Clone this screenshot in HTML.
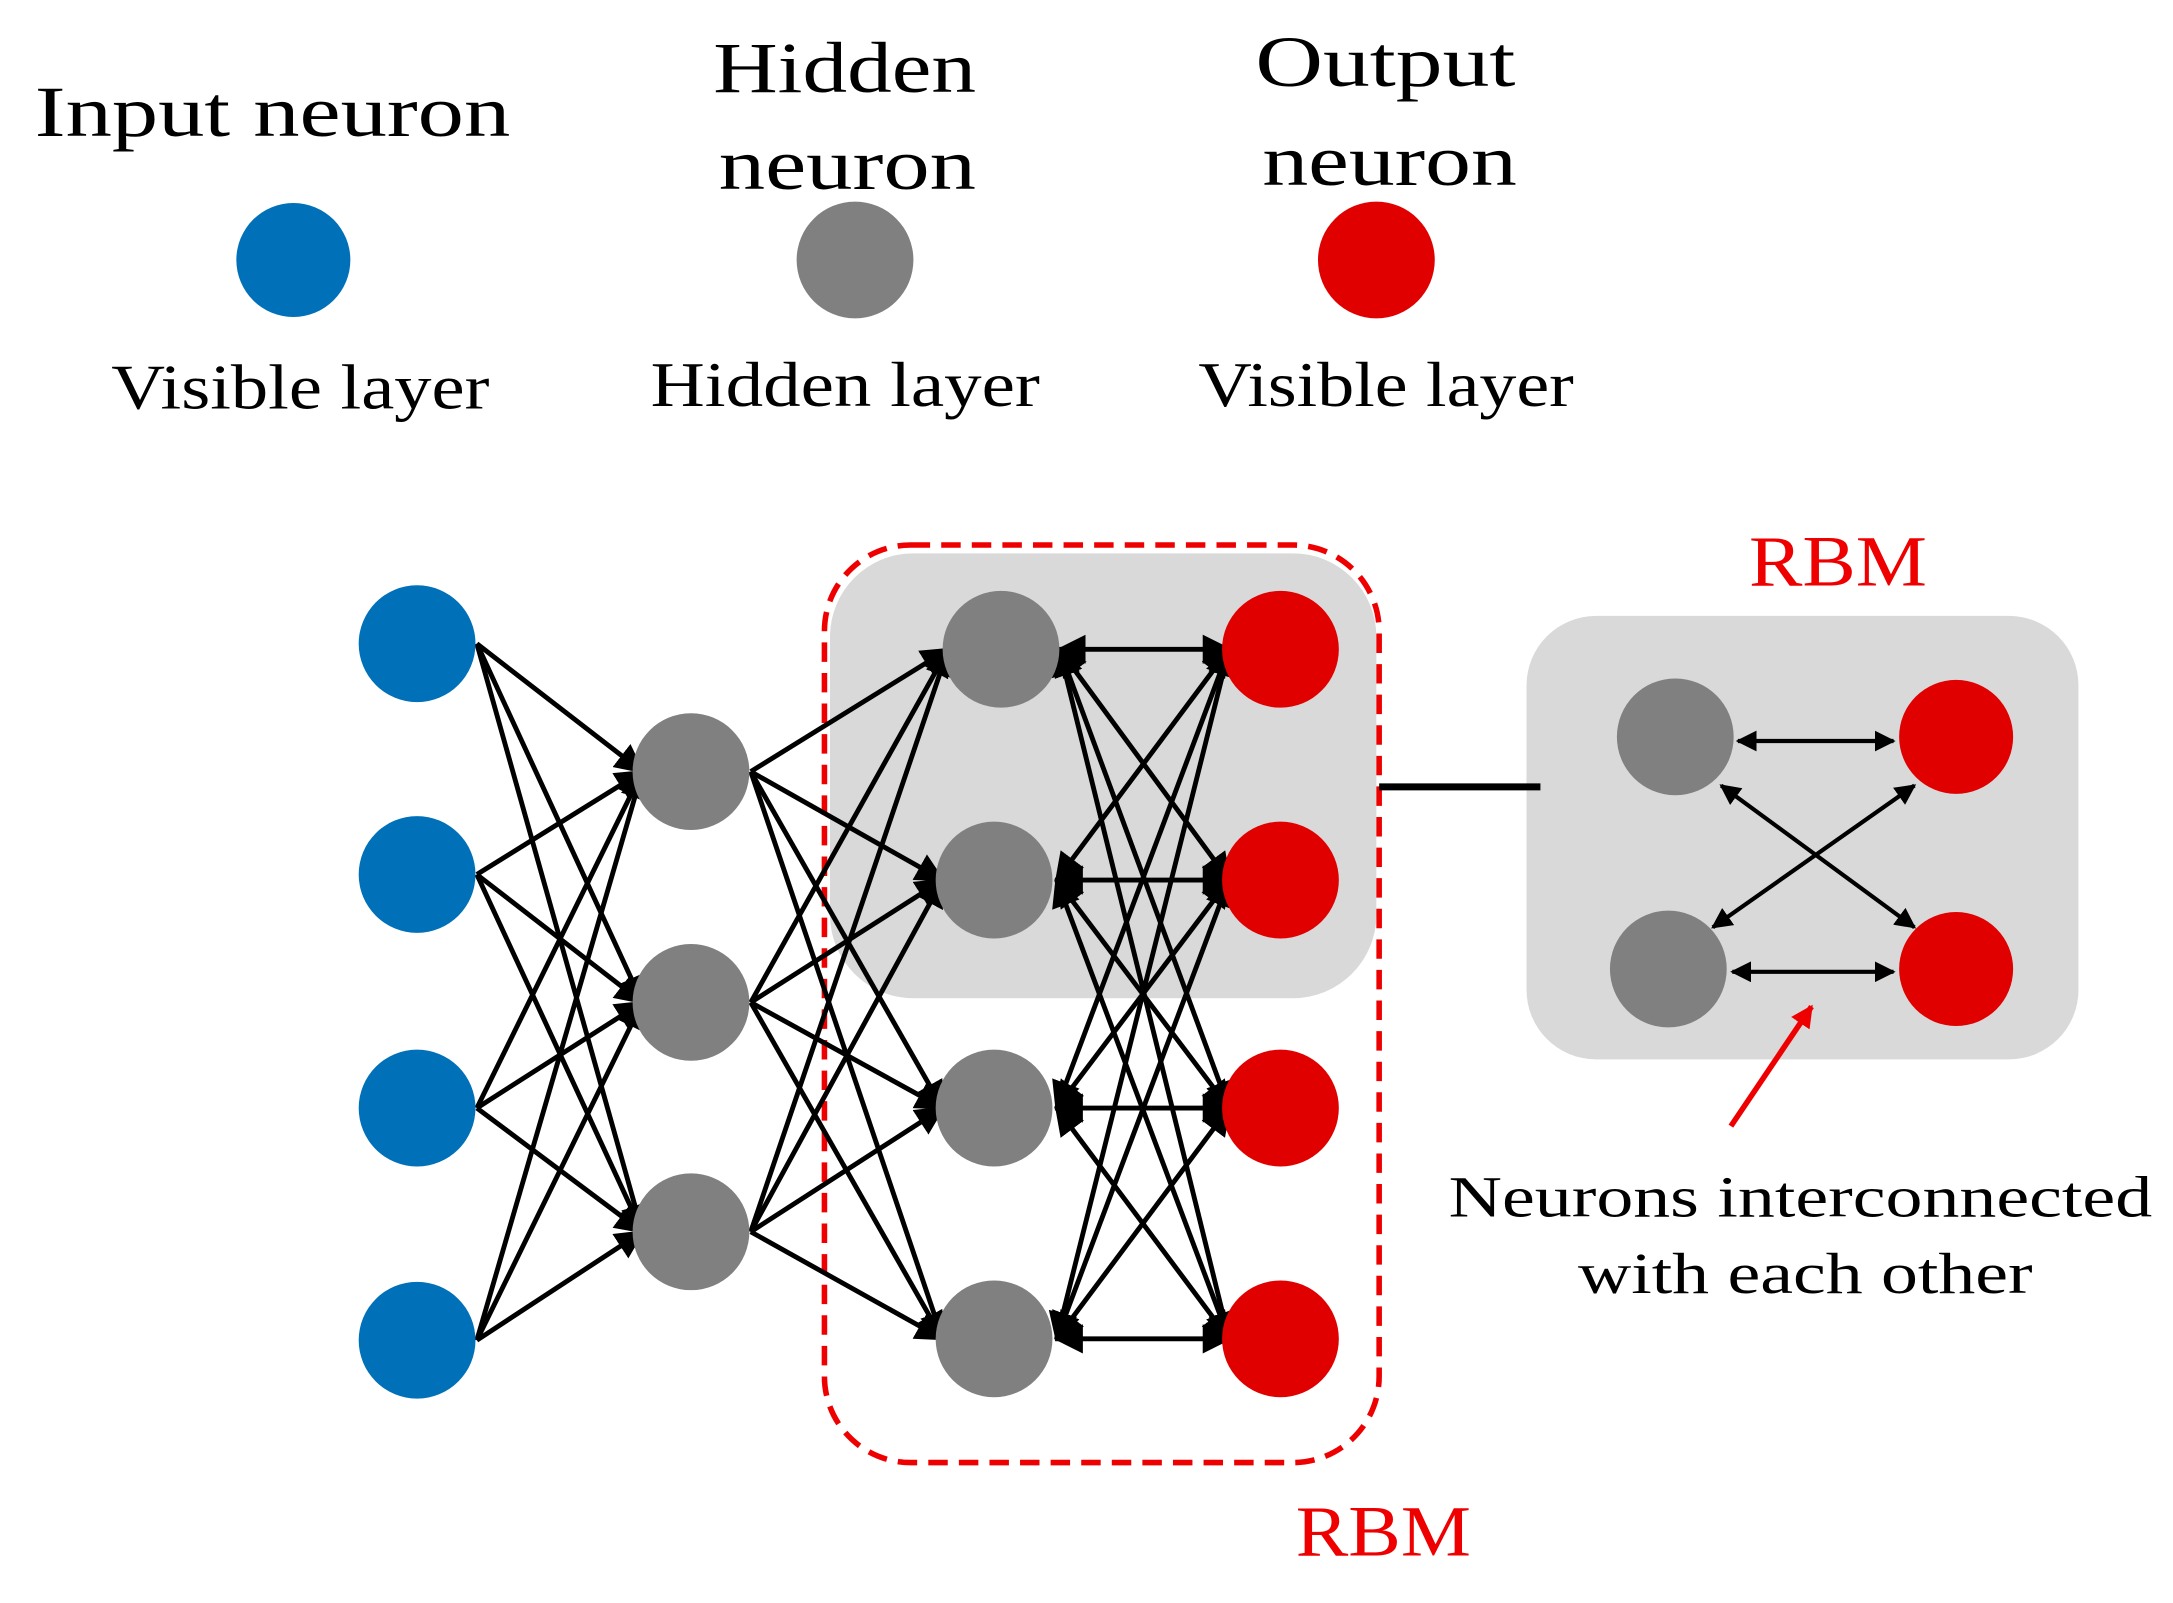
<!DOCTYPE html>
<html><head><meta charset="utf-8"><style>html,body{margin:0;padding:0;background:#fff}svg{display:block}</style></head>
<body>
<svg width="2173" height="1603" viewBox="0 0 1563 1153" preserveAspectRatio="none" xmlns="http://www.w3.org/2000/svg">
<defs>
<marker id="a" viewBox="0 0 10 10" refX="9" refY="5" markerWidth="6" markerHeight="6" orient="auto-start-reverse"><path d="M0,0L10,5L0,10z" fill="#000"/></marker>
<marker id="b" viewBox="0 0 10 10" refX="9" refY="5" markerWidth="5" markerHeight="5" orient="auto-start-reverse"><path d="M0,0L10,5L0,10z" fill="#000"/></marker>
<marker id="r" viewBox="0 0 10 10" refX="9" refY="5" markerWidth="4" markerHeight="4" orient="auto"><path d="M0,0L10,5L0,10z" fill="#e00"/></marker>
</defs>
<g font-family="Liberation Serif, serif" fill="#000" lengthAdjust="spacingAndGlyphs">
<text x="25" y="98" font-size="52" textLength="342" lengthAdjust="spacingAndGlyphs">Input neuron</text>
<text x="513" y="66" font-size="52" textLength="189" lengthAdjust="spacingAndGlyphs">Hidden</text>
<text x="517" y="136" font-size="52" textLength="185" lengthAdjust="spacingAndGlyphs">neuron</text>
<text x="903" y="62" font-size="52" textLength="187" lengthAdjust="spacingAndGlyphs">Output</text>
<text x="908" y="133" font-size="52" textLength="183" lengthAdjust="spacingAndGlyphs">neuron</text>
<text x="80" y="294" font-size="46" textLength="272" lengthAdjust="spacingAndGlyphs">Visible layer</text>
<text x="468" y="292" font-size="46" textLength="280" lengthAdjust="spacingAndGlyphs">Hidden layer</text>
<text x="862" y="292" font-size="46" textLength="270" lengthAdjust="spacingAndGlyphs">Visible layer</text>
<text x="1042" y="875" font-size="42" textLength="506" lengthAdjust="spacingAndGlyphs">Neurons interconnected</text>
<text x="1135" y="930" font-size="42" textLength="327" lengthAdjust="spacingAndGlyphs">with each other</text>
<text x="1258" y="421" font-size="52" fill="#e00" textLength="128" lengthAdjust="spacingAndGlyphs">RBM</text>
<text x="932" y="1119" font-size="52" fill="#e00" textLength="126" lengthAdjust="spacingAndGlyphs">RBM</text>
</g>
<circle cx="211" cy="187" r="41" fill="#0070b8"/>
<circle cx="615" cy="187" r="42" fill="#808080"/>
<circle cx="990" cy="187" r="42" fill="#e00000"/>
<rect x="597" y="398" width="393" height="320" rx="60" fill="#d9d9d9"/>
<rect x="1098" y="443" width="397" height="319" rx="50" fill="#d9d9d9"/>
<rect x="593" y="392" width="399" height="660" rx="62" fill="none" stroke="#e00" stroke-width="4" stroke-dasharray="14,8"/>
<line x1="992" y1="566" x2="1108" y2="566" stroke="#000" stroke-width="5"/>
<g stroke="#000" stroke-width="3.5">
<g marker-end="url(#a)">
<line x1="343" y1="463" x2="462" y2="555"/><line x1="343" y1="463" x2="462" y2="721"/><line x1="343" y1="463" x2="462" y2="886"/>
<line x1="343" y1="629" x2="462" y2="555"/><line x1="343" y1="629" x2="462" y2="721"/><line x1="343" y1="629" x2="462" y2="886"/>
<line x1="343" y1="797" x2="462" y2="555"/><line x1="343" y1="797" x2="462" y2="721"/><line x1="343" y1="797" x2="462" y2="886"/>
<line x1="343" y1="964" x2="462" y2="555"/><line x1="343" y1="964" x2="462" y2="721"/><line x1="343" y1="964" x2="462" y2="886"/>
<line x1="540" y1="555" x2="682" y2="467"/><line x1="540" y1="555" x2="678" y2="633"/><line x1="540" y1="555" x2="678" y2="797"/><line x1="540" y1="555" x2="678" y2="963"/>
<line x1="540" y1="721" x2="682" y2="467"/><line x1="540" y1="721" x2="678" y2="633"/><line x1="540" y1="721" x2="678" y2="797"/><line x1="540" y1="721" x2="678" y2="963"/>
<line x1="540" y1="886" x2="682" y2="467"/><line x1="540" y1="886" x2="678" y2="633"/><line x1="540" y1="886" x2="678" y2="797"/><line x1="540" y1="886" x2="678" y2="963"/>
</g>
<g marker-end="url(#a)" marker-start="url(#a)">
<line x1="762" y1="467" x2="884" y2="467"/><line x1="762" y1="467" x2="884" y2="633"/><line x1="762" y1="467" x2="884" y2="797"/><line x1="762" y1="467" x2="884" y2="963"/>
<line x1="760" y1="633" x2="884" y2="467"/><line x1="760" y1="633" x2="884" y2="633"/><line x1="760" y1="633" x2="884" y2="797"/><line x1="760" y1="633" x2="884" y2="963"/>
<line x1="760" y1="797" x2="884" y2="467"/><line x1="760" y1="797" x2="884" y2="633"/><line x1="760" y1="797" x2="884" y2="797"/><line x1="760" y1="797" x2="884" y2="963"/>
<line x1="760" y1="963" x2="884" y2="467"/><line x1="760" y1="963" x2="884" y2="633"/><line x1="760" y1="963" x2="884" y2="797"/><line x1="760" y1="963" x2="884" y2="963"/>
</g>
<g stroke-width="3" marker-end="url(#b)" marker-start="url(#b)">
<line x1="1250" y1="533" x2="1362" y2="533"/><line x1="1246" y1="699" x2="1362" y2="699"/>
<line x1="1238" y1="565" x2="1377" y2="667"/><line x1="1232" y1="667" x2="1377" y2="565"/>
</g>
</g>
<line x1="1245" y1="810" x2="1303" y2="724" stroke="#e00" stroke-width="4" marker-end="url(#r)"/>
<g fill="#0070b8"><circle cx="300" cy="463" r="42"/><circle cx="300" cy="629" r="42"/><circle cx="300" cy="797" r="42"/><circle cx="300" cy="964" r="42"/></g>
<g fill="#808080"><circle cx="497" cy="555" r="42"/><circle cx="497" cy="721" r="42"/><circle cx="497" cy="886" r="42"/>
<circle cx="720" cy="467" r="42"/><circle cx="715" cy="633" r="42"/><circle cx="715" cy="797" r="42"/><circle cx="715" cy="963" r="42"/>
<circle cx="1205" cy="530" r="42"/><circle cx="1200" cy="697" r="42"/></g>
<g fill="#e00000"><circle cx="921" cy="467" r="42"/><circle cx="921" cy="633" r="42"/><circle cx="921" cy="797" r="42"/><circle cx="921" cy="963" r="42"/>
<circle cx="1407" cy="530" r="41"/><circle cx="1407" cy="697" r="41"/></g>
</svg>
</body></html>
